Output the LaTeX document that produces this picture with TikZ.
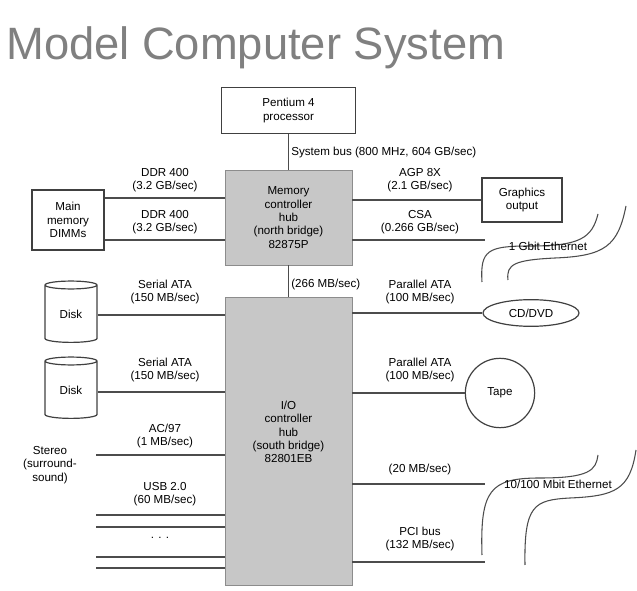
\documentclass[tikz,border=0pt]{standalone}
\usepackage{fontspec}
\setmainfont{Liberation Sans}
\usetikzlibrary{shapes.geometric}
\begin{document}
\begin{tikzpicture}[x=0.75pt,y=-0.75pt,
  lbl/.style={font=\fontsize{8.7}{10}\selectfont,align=center,inner sep=0pt},
  box/.style={draw=black!75,line width=0.9pt,fill=white,font=\fontsize{8.7}{10}\selectfont,align=center,inner sep=0pt},
  hub/.style={draw=black!45,fill=black!22,font=\fontsize{8.7}{10}\selectfont,align=center,inner sep=0pt},
  ln/.style={draw=black!70,line width=1pt}]
\useasboundingbox (0,0) rectangle (637,591);
\node[anchor=west,text=black!50,font=\fontsize{34}{36}\selectfont,inner sep=0pt] (title) at (6,48) {Model Computer System};
\node[box,minimum width=100pt,minimum height=34pt] (cpu) at (288.5,110.5) {Pentium 4\\processor};
\node[hub,minimum width=95pt,minimum height=71pt] (mch) at (288.5,217.5) {Memory\\controller\\hub\\(north bridge)\\82875P};
\node[hub,minimum width=95pt,minimum height=216pt] (ich) at (288.5,441) {};
\node[lbl] (ichtxt) at (288.5,432) {I/O\\controller\\hub\\(south bridge)\\82801EB};
\draw[ln] (cpu.south) -- (mch.north);
\node[lbl,anchor=west] (sysbus) at (291,153) {System bus (800 MHz, 604 GB/sec)};
\draw[ln] (mch.south) -- (ich.north);
\node[lbl,anchor=west] (b266) at (291,285) {(266 MB/sec)};
% memory
\node[box,minimum width=54pt,minimum height=45pt] (mem) at (68,220) {Main\\memory\\DIMMs};
\coordinate (m1) at (mem.east |- 0,198); \coordinate (m2) at (mem.east |- 0,240);
\draw[ln] (m1) -- (mch.west |- m1);
\draw[ln] (m2) -- (mch.west |- m2);
\node[lbl] (ddr1) at (165,180) {DDR 400\\(3.2 GB/sec)};
\node[lbl] (ddr2) at (165,222) {DDR 400\\(3.2 GB/sec)};
% graphics
\node[box,minimum width=60pt,minimum height=33pt] (gfx) at (522,200) {Graphics\\output};
\draw[ln] (mch.east |- gfx) -- (gfx.west);
\node[lbl] (agp) at (420,180) {AGP 8X\\(2.1 GB/sec)};
\coordinate (e1) at (485,240);
\draw[ln] (mch.east |- e1) -- (e1);
\node[lbl] (csa) at (420,222) {CSA\\(0.266 GB/sec)};
\draw[ln,line width=0.8pt] (482,282) .. controls (480,250) and (488,246) .. (530,246) .. controls (580,246) and (592,238) .. (598,214);
\draw[ln,line width=0.8pt] (508,280) .. controls (506,264) and (515,260) .. (555,258) .. controls (605,256) and (618,246) .. (626,206);
\node[lbl] (gbe) at (548,246) {1 Gbit Ethernet};
% disks
\node[cylinder,shape border rotate=90,draw=black!75,line width=0.9pt,aspect=0.35,minimum width=39pt,minimum height=46pt,font=\fontsize{8.7}{10}\selectfont,inner sep=0pt] (d1) at (71,314) {Disk};
\node[cylinder,shape border rotate=90,draw=black!75,line width=0.9pt,aspect=0.35,minimum width=39pt,minimum height=46pt,font=\fontsize{8.7}{10}\selectfont,inner sep=0pt] (d2) at (71,390) {Disk};
\draw[ln] (d1.east |- 0,315) -- (ich.west |- 0,315);
\draw[ln] (d2.east |- 0,392) -- (ich.west |- 0,392);
\node[lbl] (sa1) at (165,292) {Serial ATA\\(150 MB/sec)};
\node[lbl] (sa2) at (165,370) {Serial ATA\\(150 MB/sec)};
% cd, tape
\node[ellipse,draw=black!75,line width=0.9pt,minimum width=72pt,minimum height=20pt,font=\fontsize{8.7}{10}\selectfont,inner sep=0pt] (cd) at (531,313) {CD/DVD};
\draw[ln] (ich.east |- cd) -- (cd.west);
\node[lbl] (pa1) at (420,292) {Parallel ATA\\(100 MB/sec)};
\node[circle,draw=black!75,line width=0.9pt,minimum size=52pt,font=\fontsize{8.7}{10}\selectfont,inner sep=0pt] (tape) at (500,393) {Tape};
\draw[ln] (ich.east |- tape) -- (tape.west);
\node[lbl] (pa2) at (420,370) {Parallel ATA\\(100 MB/sec)};
% audio
\node[lbl] (stereo) at (50,465) {Stereo\\(surround-\\sound)};
\coordinate (s1) at (96,455);
\draw[ln] (s1) -- (ich.west |- s1);
\node[lbl] (ac97) at (165,436) {AC/97\\(1 MB/sec)};
\node[lbl] (usb) at (165,494) {USB 2.0\\(60 MB/sec)};
\foreach \yy/\nm in {515/u1,527/u2,557/u3,568/u4}{
  \coordinate (\nm) at (96,\yy);
  \draw[ln] (\nm) -- (ich.west |- \nm);}
\node[lbl] (dots) at (160,538) {. . .};
% ethernet 10/100
\coordinate (e2) at (485,484);
\draw[ln] (ich.east |- e2) -- (e2);
\node[lbl] (b20) at (420,470) {(20 MB/sec)};
\draw[ln,line width=0.8pt] (482,555) .. controls (480,490) and (490,478) .. (540,478) .. controls (590,478) and (596,470) .. (598,455);
\draw[ln,line width=0.8pt] (525,565) .. controls (524,505) and (534,500) .. (570,498) .. controls (615,496) and (630,490) .. (636,450);
\node[lbl] (eth) at (558,484) {10/100 Mbit Ethernet};
\coordinate (e3) at (485,562);
\draw[ln] (ich.east |- e3) -- (e3);
\node[lbl] (pci) at (420,539) {PCI bus\\(132 MB/sec)};
\end{tikzpicture}
\end{document}
